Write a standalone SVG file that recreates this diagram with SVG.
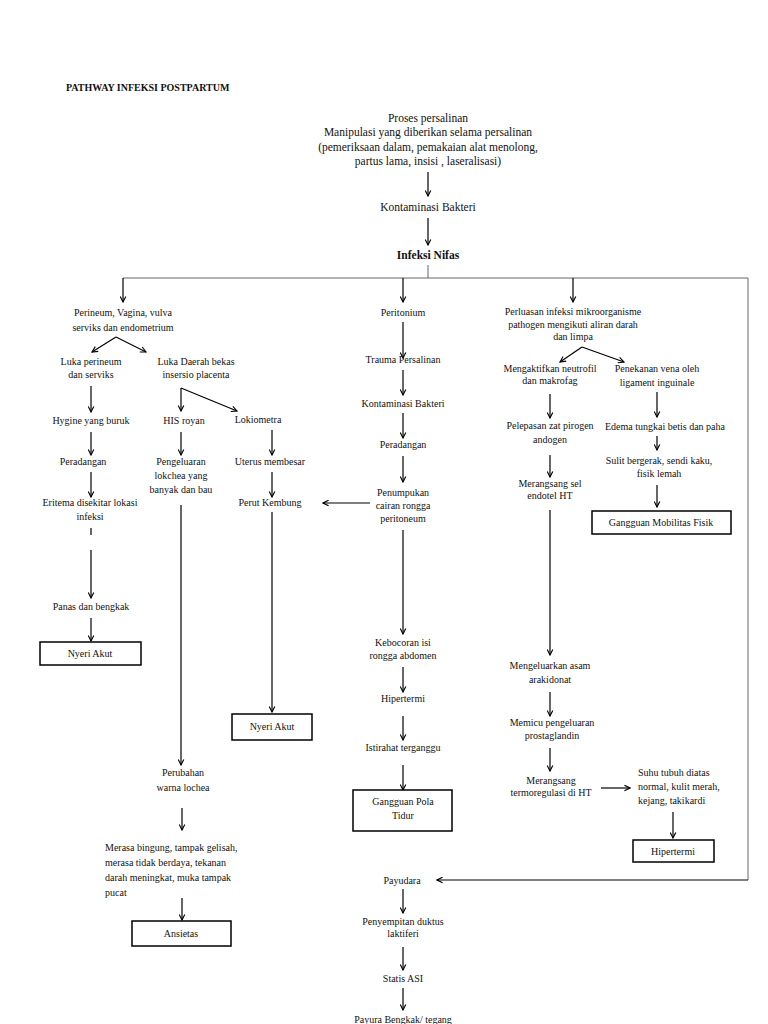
<svg xmlns="http://www.w3.org/2000/svg" width="768" height="1024" viewBox="0 0 768 1024">
<style>
text{font-family:"Liberation Serif","DejaVu Serif",serif;font-size:10px;fill:#111;text-anchor:middle}
.l{text-anchor:start}
.b{font-weight:bold}
.h{font-size:11.5px}
.a{stroke:#000;stroke-width:1.2;fill:none;marker-end:url(#ah)}
.g{stroke:#666;stroke-width:1;fill:none}
.bx{fill:#fff;stroke:#000;stroke-width:1.5}
</style>
<defs><marker id="ah" viewBox="0 0 10 10" refX="9" refY="5" markerWidth="7" markerHeight="7" orient="auto" markerUnits="userSpaceOnUse"><path d="M1,1 L9,5 L1,9" fill="none" stroke="#000" stroke-width="1.6"/></marker></defs>
<rect width="768" height="1024" fill="#fff"/>
<text class="l b" x="66" y="91" font-size="9.5">PATHWAY INFEKSI POSTPARTUM</text>
<g id="connectors">
<path class="a" d="M428,172V196"/><path class="a" d="M428,218V245"/>
<path class="g" d="M428,265V278M123,278H748V880"/>
<path class="a" d="M748,880H437"/>
<path class="a" d="M123,278V302"/><path class="a" d="M403,278V302"/><path class="a" d="M573,278V302"/>
<path class="a" d="M116,337L92,352"/><path class="a" d="M116,337L146,352"/>
<path class="a" d="M91,386V412"/><path class="a" d="M181,388V411"/><path class="a" d="M181,388L237,411"/>
<path class="a" d="M91,432V455"/><path class="a" d="M181,432V455"/><path class="a" d="M272,430V455"/>
<path class="a" d="M91,472V497"/><path class="a" d="M272,472V497"/><path class="a" d="M370,503H323"/>
<path class="a" d="M91,528V535M91,550V598"/><path class="a" d="M91,618V641"/>
<path class="a" d="M181,505V765"/><path class="a" d="M182,808V830"/><path class="a" d="M182,898V920"/>
<path class="a" d="M272,512V712"/>
<path class="a" d="M403,322V358"/><path class="a" d="M403,370V395"/><path class="a" d="M403,413V438"/>
<path class="a" d="M403,456V482"/><path class="a" d="M403,530V634"/><path class="a" d="M403,667V692"/>
<path class="a" d="M403,716V740"/><path class="a" d="M403,765V790"/>
<path class="a" d="M403,889V913"/><path class="a" d="M403,947V970"/><path class="a" d="M403,988V1010"/>
<path class="a" d="M582,347L560,362"/><path class="a" d="M582,347L624,362"/>
<path class="a" d="M550,394V418"/><path class="a" d="M657,392V417"/><path class="a" d="M657,436V450"/>
<path class="a" d="M657,485V507"/><path class="a" d="M550,455V477"/><path class="a" d="M550,510V655"/>
<path class="a" d="M550,692V716"/><path class="a" d="M550,748V771"/><path class="a" d="M601,788H630"/>
<path class="a" d="M673,812V838"/>
</g>
<g id="top"><text class="h" x="428" y="122">Proses persalinan</text><text class="h" x="428" y="136">Manipulasi yang diberikan selama persalinan</text><text class="h" x="428" y="151">(pemeriksaan dalam, pemakaian alat menolong,</text><text class="h" x="428" y="165">partus lama, insisi , laseralisasi)</text></g>
<g id="kont"><text class="h" x="428" y="211">Kontaminasi Bakteri</text></g>
<g id="nifas"><text class="b h" x="428" y="259">Infeksi Nifas</text></g>
<g id="perineum"><text x="123" y="316">Perineum, Vagina, vulva</text><text x="123" y="331">serviks dan endometrium</text></g>
<g id="luka1"><text x="91" y="365">Luka perineum</text><text x="91" y="378">dan serviks</text></g>
<g id="luka2"><text x="196" y="365">Luka Daerah bekas</text><text x="196" y="378">insersio placenta</text></g>
<g id="hyg"><text x="91" y="424">Hygine yang buruk</text></g>
<g id="his"><text x="184" y="424">HIS royan</text></g>
<g id="lok"><text x="258" y="423">Lokiometra</text></g>
<g id="perad1"><text x="83" y="465">Peradangan</text></g>
<g id="peng"><text x="181" y="465">Pengeluaran</text><text x="181" y="479">lokchea yang</text><text x="181" y="493">banyak dan bau</text></g>
<g id="uterus"><text x="270" y="465">Uterus membesar</text></g>
<g id="eritema"><text x="90" y="506">Eritema disekitar lokasi</text><text x="90" y="520">infeksi</text></g>
<g id="perut"><text x="270" y="506">Perut Kembung</text></g>
<g id="panas"><text x="91" y="610">Panas dan bengkak</text></g>
<g id="nyeri1"><rect class="bx" x="40" y="642" width="101" height="23"/><text x="90" y="657">Nyeri Akut</text></g>
<g id="nyeri2"><rect class="bx" x="232" y="714" width="80" height="26"/><text x="272" y="730">Nyeri Akut</text></g>
<g id="perubahan"><text x="183" y="776">Perubahan</text><text x="183" y="791">warna lochea</text></g>
<g id="merasa"><text class="l" x="105" y="851">Merasa bingung,  tampak gelisah,</text><text class="l" x="105" y="866">merasa tidak berdaya, tekanan</text><text class="l" x="105" y="881">darah meningkat, muka tampak</text><text class="l" x="105" y="896">pucat</text></g>
<g id="ansietas"><rect class="bx" x="132" y="921" width="99" height="25"/><text x="181" y="937">Ansietas</text></g>
<g id="perit"><text x="403" y="316">Peritonium</text></g>
<g id="trauma"><text x="403" y="363">Trauma Persalinan</text></g>
<g id="kont2"><text x="403" y="407">Kontaminasi Bakteri</text></g>
<g id="perad2"><text x="403" y="448">Peradangan</text></g>
<g id="penumpukan"><text x="403" y="496">Penumpukan</text><text x="403" y="509">cairan rongga</text><text x="403" y="522">peritoneum</text></g>
<g id="kebocoran"><text x="403" y="646">Kebocoran isi</text><text x="403" y="659">rongga abdomen</text></g>
<g id="hiper1"><text x="403" y="702">Hipertermi</text></g>
<g id="istirahat"><text x="403" y="751">Istirahat terganggu</text></g>
<g id="pola"><rect class="bx" x="353" y="790" width="99" height="41"/><text x="403" y="805">Gangguan Pola</text><text x="403" y="819">Tidur</text></g>
<g id="payudara"><text x="402" y="884">Payudara</text></g>
<g id="penyempitan"><text x="403" y="925">Penyempitan duktus</text><text x="403" y="937">laktiferi</text></g>
<g id="statis"><text x="403" y="982">Statis ASI</text></g>
<g id="payura"><text x="403" y="1023">Payura Bengkak/ tegang</text></g>
<g id="perluasan"><text x="573" y="315">Perluasan infeksi mikroorganisme</text><text x="573" y="328">pathogen mengikuti aliran darah</text><text x="573" y="340">dan limpa</text></g>
<g id="neutro"><text x="550" y="372">Mengaktifkan neutrofil</text><text x="550" y="384">dan makrofag</text></g>
<g id="vena"><text x="657" y="372">Penekanan vena oleh</text><text x="657" y="386">ligament inguinale</text></g>
<g id="pirogen"><text x="550" y="429">Pelepasan zat pirogen</text><text x="550" y="443">andogen</text></g>
<g id="edema"><text x="665" y="430">Edema tungkai betis dan paha</text></g>
<g id="sulit"><text x="659" y="464">Sulit bergerak, sendi kaku,</text><text x="659" y="477">fisik lemah</text></g>
<g id="mobilitas"><rect class="bx" x="592" y="511" width="139" height="23"/><text x="661" y="526">Gangguan Mobilitas Fisik</text></g>
<g id="endotel"><text x="550" y="487">Merangsang sel</text><text x="550" y="499">endotel HT</text></g>
<g id="asam"><text x="550" y="669">Mengeluarkan asam</text><text x="550" y="683">arakidonat</text></g>
<g id="memicu"><text x="552" y="726">Memicu pengeluaran</text><text x="552" y="739">prostaglandin</text></g>
<g id="termo"><text x="551" y="784">Merangsang</text><text x="551" y="796">termoregulasi di HT</text></g>
<g id="suhu"><text class="l" x="638" y="776">Suhu tubuh diatas</text><text class="l" x="638" y="790">normal, kulit merah,</text><text class="l" x="638" y="804">kejang, takikardi</text></g>
<g id="hiper2"><rect class="bx" x="633" y="840" width="81" height="22"/><text x="673" y="855">Hipertermi</text></g>
</svg>
